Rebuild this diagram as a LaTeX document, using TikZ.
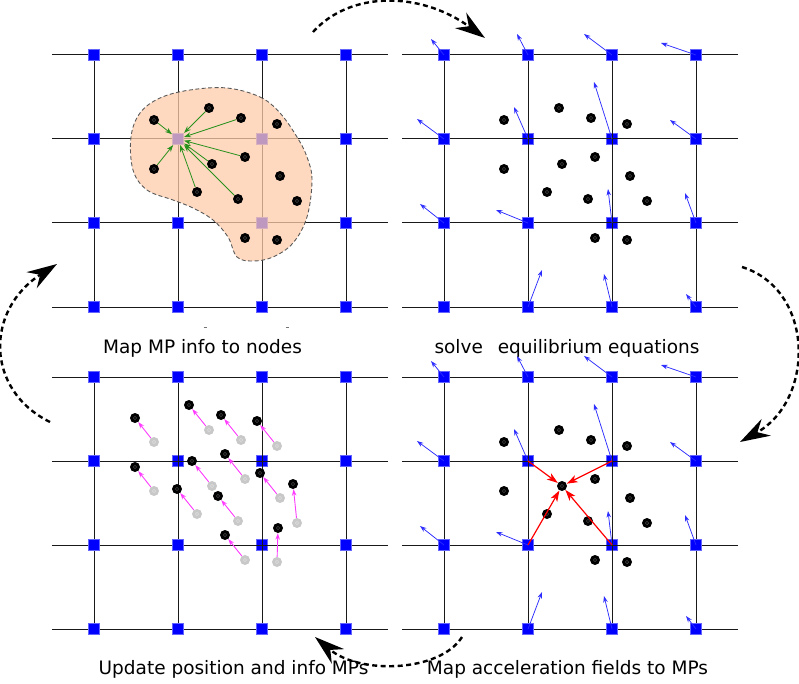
\documentclass[tikz,border=0pt]{standalone}
\usepackage{fontspec}
\setmainfont{DejaVu Sans}
\usetikzlibrary{arrows.meta}
\definecolor{nodeblue}{RGB}{0,0,255}
\definecolor{nodeedge}{RGB}{100,100,255}
\definecolor{blobfill}{RGB}{255,204,170}
\definecolor{greenarr}{RGB}{40,145,30}
\definecolor{bluearr}{RGB}{45,45,255}
\definecolor{magarr}{RGB}{255,60,255}
\definecolor{oldmp}{RGB}{200,200,200}
\begin{document}
\begin{tikzpicture}[x=1pt,y=-1pt,
  gridnode/.style={rectangle, minimum size=11.5pt, inner sep=0pt, fill=nodeblue, draw=nodeedge, line width=0.6pt},
  mpt/.style={circle, minimum size=10pt, inner sep=0pt, fill=black,
    path picture={\draw[white!35!black, line width=0.4pt] (path picture bounding box.center) circle (1.7pt);}},
  oldpt/.style={circle, minimum size=10pt, inner sep=0pt, fill=oldmp,
    path picture={\draw[white!90!black, line width=0.4pt] (path picture bounding box.center) circle (1.7pt);}},
  gridline/.style={line width=1pt, black!90},
  garrowst/.style={greenarr, line width=0.8pt, -{Stealth[length=7pt,width=5pt]}},
  barrowst/.style={bluearr, line width=0.75pt, -{Stealth[length=6.5pt,width=4.5pt]}},
  rarrowst/.style={red, line width=1.2pt, -{Stealth[length=11pt,width=7.5pt,inset=3pt]}},
  marrowst/.style={magarr, line width=0.9pt, -{Stealth[length=6.5pt,width=4.5pt]}},
  cyc/.style={black, line width=2.4pt, dash pattern=on 5pt off 3.5pt, -{Stealth[length=30pt,width=19pt,inset=10pt]}},
  lbl/.style={anchor=base, inner sep=0pt, font=\fontsize{18.5}{22}\selectfont}
]
\useasboundingbox (0,0) rectangle (799,684);

% grid lines
\foreach \ox/\oy in {0/0,350/0,0/322,350/322} {
  \foreach \r in {0,...,3} {
    \draw[gridline] (52+\ox,55+84*\r+\oy) -- (388+\ox,55+84*\r+\oy);
    \draw[gridline] (94+84*\r+\ox,55+\oy) -- (94+84*\r+\ox,307+\oy);
  }
}

% grid nodes
\foreach \p/\ox/\oy in {a/0/0,b/350/0,c/0/322,d/350/322} {
  \foreach \c in {0,...,3} {
    \foreach \r in {0,...,3} {
      \node[gridnode] (\p-\c-\r) at (94+84*\c+\ox,55+84*\r+\oy) {};
    }
  }
}

% grid lines seen across some nodes
\foreach \p in {b,c,d} {
  \foreach \c/\r in {1/1,2/1,2/2} {
    \draw[gridline] ([xshift=-6pt]\p-\c-\r.center) -- ([xshift=6pt]\p-\c-\r.center);
    \draw[gridline] ([yshift=-6pt]\p-\c-\r.center) -- ([yshift=6pt]\p-\c-\r.center);
  }
}

% blob (support domain)
\draw[draw=black!65, line width=0.9pt, fill=blobfill, fill opacity=0.75, dash pattern=on 4pt off 2.5pt]
  plot[smooth cycle, tension=0.6] coordinates {
  (227,88) (260,97) (280,113) (297,137) (307,157) (312,180) (307,217) (293,243)
  (273,257) (253,261) (237,257) (228,237) (213,220) (193,208) (173,200) (147,190)
  (133,170) (131,137) (140,113) (160,98) (190,90)};

% small marks under the first panel
\draw[black!55, line width=0.7pt] (203.5,327) -- (206.5,327);
\draw[black!55, line width=0.7pt] (285.5,327) -- (288.5,327);

% material points: panels a, b, d
\foreach \i/\x/\y in {1/154/120,2/209/108,3/241/118,4/277/124,5/154/169,6/212/164,7/245/157,
                      8/280/176,9/197/192,10/238/199,11/297/201,12/245/238,13/277/240} {
  \node[mpt] (pa\i) at (\x,\y) {};
  \node[mpt] (pb\i) at (\x+350,\y) {};
  \node[mpt] (pd\i) at (\x+350,\y+322) {};
  \node[oldpt] (pg\i) at (\x,\y+322) {};
}

% green arrows: MP info to node
\foreach \i in {1,2,3,5,6,7,9,10} {
  \draw[garrowst] (pa\i) -- (a-1-1);
}

% blue arrows: nodal accelerations (panels b and d)
\foreach \c/\r/\ex/\ey in {0/0/431/39,1/0/517/34,2/0/584/34,3/0/661/43,
                           0/1/417/119,1/1/514/107,2/1/594/82,3/1/670/120,
                           0/2/420/204,1/2/496/210,2/2/608/189,3/2/685/193,
                           1/3/542/270,2/3/604/274,3/3/686/294} {
  \coordinate (eb-\c-\r) at (\ex,\ey);
  \coordinate (ed-\c-\r) at (\ex,\ey+322);
  \draw[barrowst] (b-\c-\r.center) -- (eb-\c-\r);
  \draw[barrowst] (d-\c-\r.center) -- (ed-\c-\r);
}

% red arrows: node fields to one MP
\foreach \c/\r in {1/1,2/1,1/2,2/2} {
  \draw[rarrowst] (d-\c-\r.center) -- (pd6);
}

% updated MP positions (panel c)
\foreach \i/\x/\y in {1/135/418,2/189/405,3/221/415,4/257/421,5/135/467,6/192/461,7/225/454,
                      8/260/473,9/177/489,10/218/496,11/293/484,12/225/535,13/278/528} {
  \node[mpt] (pc\i) at (\x,\y) {};
  \draw[marrowst] (pg\i) -- (pc\i);
}

% labels
\node[lbl] (l1) at (202.5,353) {Map MP info to nodes};
\node[lbl] (l2) at (567,353) {solve\hspace{9pt} equilibrium equations};
\node[lbl] (l3) at (233.5,674) {Update position and info MPs};
\node[lbl] (l4) at (567.5,674) {Map acceleration fields to MPs};

% cycle arrows
\coordinate (t0) at (313,32);   \coordinate (t1) at (485,38);
\coordinate (r0) at (742,267);  \coordinate (r1) at (740,442);
\coordinate (u0) at (462,637);  \coordinate (u1) at (315,637);
\coordinate (w0) at (50,422);   \coordinate (w1) at (57,264);
\draw[cyc] (t0) .. controls (350,-9) and (420,-9) .. (t1);
\draw[cyc] (r0) .. controls (815,290) and (815,400) .. (r1);
\draw[cyc] (u0) .. controls (440,672) and (360,675) .. (u1);
\draw[cyc] (w0) .. controls (-15,390) and (-15,310) .. (w1);
\end{tikzpicture}
\end{document}
